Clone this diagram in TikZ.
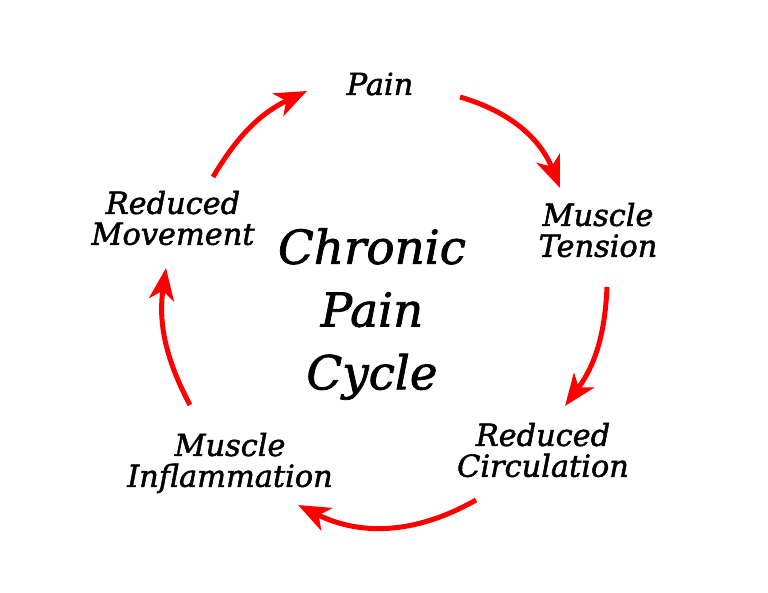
\documentclass[tikz,border=0pt]{standalone}
\usepackage{fontspec}
\setmainfont{DejaVu Serif}[ItalicFeatures={FakeBold=1.6}]
\usepackage{tikz}
\usetikzlibrary{arrows.meta}
\tikzstyle{step label} = [inner sep=0pt, align=center, font=\fontsize{30.5}{31}\selectfont\itshape]
\tikzstyle{title} = [inner sep=0pt, align=center, font=\fontsize{47}{63}\selectfont\itshape]
\tikzstyle{arrow} = [line width=5bp, red, -{Stealth[length=32bp, width=25bp, inset=9bp]}]

\begin{document}
\begin{tikzpicture}[x=1bp, y=1bp]
\useasboundingbox (0,0) rectangle (768,593);

\node (pain) [step label, anchor=base] at (380,498) {Pain};
\node (tension) [step label] at (598,363) {Muscle\\Tension};
\node (circ) [step label] at (543,143) {Reduced\\Circulation};
\node (infl) [step label] at (230,130) {Muscle\\Inflammation};
\node (move) [step label] at (173,375) {Reduced\\Movement};
\node (cycle) [title] at (372,279) {Chronic\\Pain\\Cycle};

% arrow ends
\coordinate (a1) at (460,496);
\coordinate (b1) at (560,405);
\coordinate (a2) at (607,306);
\coordinate (b2) at (565,187);
\coordinate (a3) at (476,93);
\coordinate (b3) at (298,88);
\coordinate (a4) at (190,188);
\coordinate (b4) at (166,325);
\coordinate (a5) at (213,416);
\coordinate (b5) at (307,502);

\draw [arrow] (a1) to[bend left=26] (b1);
\draw [arrow] (a2) to[bend left=17] (b2);
\draw [arrow] (a3) to[bend left=28] (b3);
\draw [arrow] (a4) to[bend left=18] (b4);
\draw [arrow] (a5) to[bend left=17] (b5);

\end{tikzpicture}
\end{document}
